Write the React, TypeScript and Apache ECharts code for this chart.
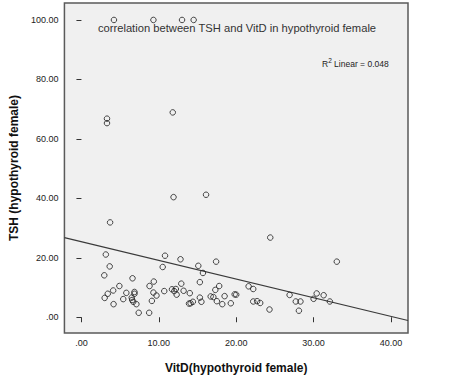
import React, { useEffect, useRef } from "react";
import * as echarts from "echarts";

const vitD = [4.2, 9.3, 13.0, 14.5, 3.3, 3.3, 11.8, 11.9, 16.1, 3.7, 24.4, 3.15, 10.8, 12.8, 17.4, 33.0, 3.65, 10.5, 15.1, 15.7, 2.95, 6.6, 9.35, 12.9, 15.3, 4.9, 8.8, 17.8, 21.6, 22.2, 4.1, 3.4, 5.8, 6.85, 6.85, 9.3, 9.7, 10.7, 11.7, 12.0, 12.2, 12.3, 13.2, 14.0, 17.3, 18.5, 19.8, 20.0, 26.9, 30.4, 31.3, 3.0, 5.4, 6.5, 6.55, 6.7, 7.1, 4.15, 9.1, 15.3, 15.5, 16.7, 17.05, 17.5, 18.2, 13.9, 14.1, 14.4, 19.3, 22.2, 22.7, 23.1, 24.3, 27.7, 28.3, 28.1, 30.0, 32.1, 7.4, 8.75];
const tsh = [100, 100, 100, 100, 66.8, 65.3, 68.9, 40.4, 41.2, 31.9, 26.8, 21.1, 20.7, 19.5, 18.7, 18.7, 17.1, 16.9, 17.3, 14.9, 14.1, 13.1, 12.0, 11.3, 11.8, 10.5, 10.5, 10.5, 10.4, 9.5, 9.0, 7.9, 8.2, 8.5, 7.9, 8.3, 7.3, 8.8, 9.4, 8.8, 9.5, 7.6, 8.9, 8.1, 9.2, 7.1, 7.7, 7.6, 7.5, 8.0, 7.4, 6.5, 6.1, 6.6, 5.8, 5.2, 4.4, 4.4, 5.5, 6.6, 5.2, 7.0, 6.8, 5.4, 4.4, 4.6, 4.7, 5.2, 4.7, 5.3, 5.4, 4.8, 2.6, 5.3, 5.3, 2.2, 6.2, 5.3, 1.5, 1.5];

const xTicks = [0, 10, 20, 30, 40];
const yTicks = [0, 20, 40, 60, 80, 100];
const xRange = [-2.2, 42.2];
const yRange = [-5.3, 105.7];
const fitLine = [[-2.2, 26.8], [42.2, -1.1]];

const titleText = "correlation between TSH and VitD in hypothyroid female";
const r2Text = "0.048";

const FONT = "Arial, 'Liberation Sans', sans-serif";
const fmt = (v: number) => v.toFixed(2).replace(/^0\./, ".");

export default function App() {
  const ref = useRef<HTMLDivElement>(null);
  useEffect(() => {
    if (!ref.current) return;
    const chart = echarts.init(ref.current, null, { renderer: "svg" });
    const points = vitD.map((x, i) => [x, tsh[i]]);
    chart.setOption({
      animation: false,
      backgroundColor: "#ffffff",
      textStyle: { fontFamily: FONT },
      grid: {
        left: 60,
        top: 3,
        width: 348,
        height: 330,
        show: true,
        backgroundColor: "#f0f0f0",
        borderColor: "#5a5a5a",
        borderWidth: 1.5,
      },
      xAxis: {
        type: "value",
        min: xRange[0],
        max: xRange[1],
        splitLine: { show: false },
        axisLine: { show: false },
        axisTick: { show: true, length: 5, lineStyle: { color: "#333" }, customValues: xTicks },
        axisLabel: {
          customValues: xTicks,
          formatter: (v: number) => fmt(v),
          fontSize: 9,
          color: "#222",
          margin: 5,
          fontFamily: FONT,
        },
        name: "VitD(hypothyroid female)",
        nameLocation: "middle",
        nameGap: 29,
        nameTextStyle: { fontSize: 12, fontWeight: "bold", color: "#111", fontFamily: FONT },
      },
      yAxis: {
        type: "value",
        min: yRange[0],
        max: yRange[1],
        splitLine: { show: false },
        axisLine: { show: false },
        axisTick: { show: true, length: 5, lineStyle: { color: "#333" }, customValues: yTicks },
        axisLabel: {
          customValues: yTicks,
          formatter: (v: number) => fmt(v),
          fontSize: 9,
          color: "#222",
          margin: 6,
          fontFamily: FONT,
        },
        name: "TSH (hypothyroid female)",
        nameLocation: "middle",
        nameGap: 37,
        nameTextStyle: { fontSize: 12, fontWeight: "bold", color: "#111", fontFamily: FONT },
      },
      graphic: [
        {
          type: "text",
          x: 237,
          y: 22,
          style: { text: titleText, fontSize: 11.2, fill: "#333", fontFamily: FONT, textAlign: "center" },
        },
        {
          type: "text",
          x: 322,
          y: 57,
          style: {
            text: "{a|R}{s|2}{a| Linear = " + r2Text + "}",
            fontFamily: FONT,
            rich: {
              a: { fontSize: 8.5, fill: "#222", fontFamily: FONT, verticalAlign: "bottom" },
              s: { fontSize: 6.5, fill: "#222", fontFamily: FONT, verticalAlign: "top", padding: [0, 0, 4, 0] },
            },
          },
        },
      ],
      series: [
        {
          type: "line",
          data: fitLine,
          showSymbol: false,
          symbol: "none",
          lineStyle: { color: "#3a3a3a", width: 1.2 },
          clip: true,
          z: 2,
        },
        {
          type: "scatter",
          data: points,
          symbol: "circle",
          symbolSize: 5.5,
          itemStyle: { color: "rgba(0,0,0,0)", borderColor: "#1a1a1a", borderWidth: 1 },
          z: 3,
        },
      ],
    });
    return () => chart.dispose();
  }, []);
  return (
    <div
      ref={ref}
      style={{ position: "fixed", left: 0, top: 0, width: 474, height: 379, background: "#fff" }}
    />
  );
}
